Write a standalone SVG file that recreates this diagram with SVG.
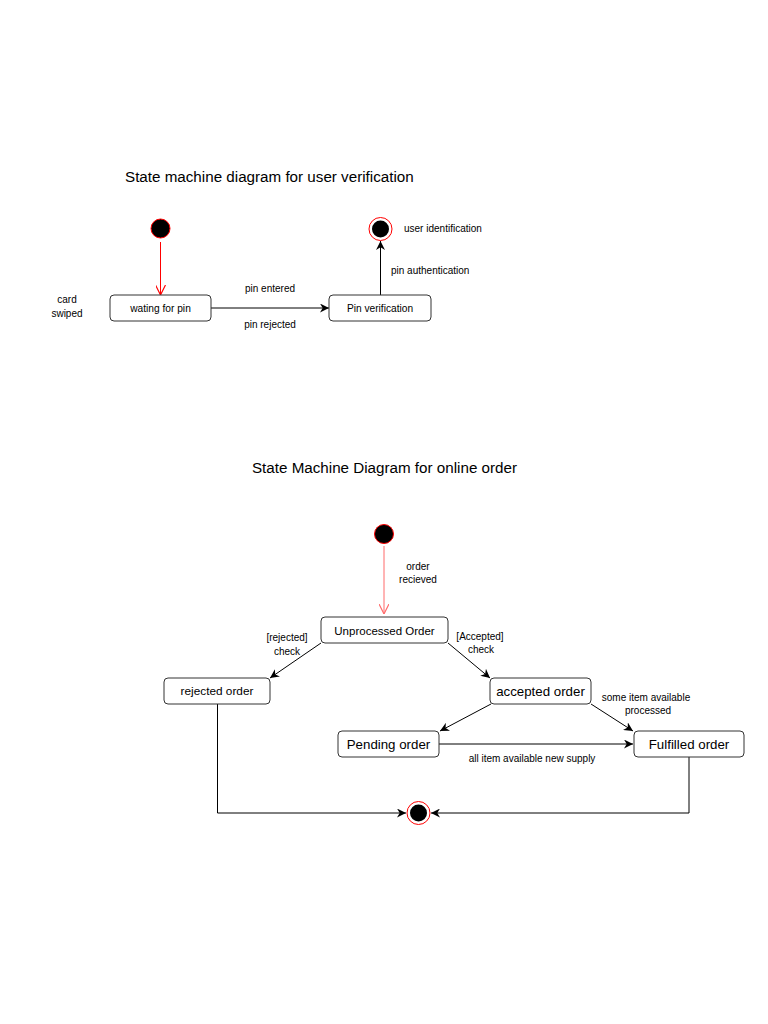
<svg xmlns="http://www.w3.org/2000/svg" width="768" height="1024" viewBox="0 0 768 1024">
<style>
text{font-family:"Liberation Sans",Arial,sans-serif;fill:#000}
.title{font-size:15.2px}
.lbl{font-size:10px}
.st{fill:#fff;stroke:#333;stroke-width:1}
.n1{font-size:10.2px}
.n2{font-size:13.3px}
.conn{fill:none;stroke:#000;stroke-width:1}
.red{fill:none;stroke:#f00;stroke-width:1}
.pink{fill:none;stroke:#ff6b6b;stroke-width:1}
.init{fill:#000;stroke:#f00;stroke-width:1}
.fin-o{fill:#fff;stroke:#f00;stroke-width:1}
.fin-i{fill:#000}
</style>
<defs>
<marker id="blk" viewBox="0 0 10 10" refX="10" refY="5" markerWidth="9" markerHeight="9" markerUnits="userSpaceOnUse" orient="auto">
<path d="M0,0 L10,5 L0,10 L3,5 Z" fill="#000"/>
</marker>
<marker id="openred" viewBox="0 0 10 10" refX="10" refY="5" markerWidth="10" markerHeight="10" markerUnits="userSpaceOnUse" orient="auto">
<path d="M0,0 L10,5 L0,10" fill="none" stroke="#f00" stroke-width="1.2"/>
</marker>
<marker id="openpink" viewBox="0 0 10 10" refX="10" refY="5" markerWidth="10" markerHeight="10" markerUnits="userSpaceOnUse" orient="auto">
<path d="M0,0 L10,5 L0,10" fill="none" stroke="#ff6b6b" stroke-width="1.2"/>
</marker>
</defs>
<rect width="768" height="1024" fill="#fff"/>

<text class="title" x="125" y="182">State machine diagram for user verification</text>
<text class="title" x="384.5" y="473" text-anchor="middle">State Machine Diagram for online order</text>

<g id="connectors">
<line class="red" x1="160.5" y1="242" x2="160.5" y2="295" marker-end="url(#openred)"/>
<line class="conn" x1="211" y1="308" x2="329" y2="308" marker-end="url(#blk)"/>
<line class="conn" x1="380.5" y1="295" x2="380.5" y2="241" marker-end="url(#blk)"/>

<line class="pink" x1="384" y1="546" x2="384" y2="614" marker-end="url(#openpink)"/>
<line class="conn" x1="321" y1="643" x2="270" y2="678" marker-end="url(#blk)"/>
<line class="conn" x1="448" y1="643" x2="490" y2="678" marker-end="url(#blk)"/>
<line class="conn" x1="491" y1="704" x2="440" y2="731" marker-end="url(#blk)"/>
<line class="conn" x1="591" y1="704" x2="633" y2="731" marker-end="url(#blk)"/>
<line class="conn" x1="439" y1="744" x2="633" y2="744" marker-end="url(#blk)"/>
<polyline class="conn" points="217.5,704 217.5,813 406,813" marker-end="url(#blk)"/>
<polyline class="conn" points="689,757 689,813 431,813" marker-end="url(#blk)"/>
</g>

<g id="labels">
<text class="lbl" x="67" y="303" text-anchor="middle">card</text>
<text class="lbl" x="67" y="317" text-anchor="middle">swiped</text>
<text class="lbl" x="270" y="292" text-anchor="middle">pin entered</text>
<text class="lbl" x="270" y="328" text-anchor="middle">pin rejected</text>
<text class="lbl" x="391" y="274">pin authentication</text>
<text class="lbl" x="404" y="232">user identification</text>

<text class="lbl" x="418" y="570" text-anchor="middle">order</text>
<text class="lbl" x="418" y="583" text-anchor="middle">recieved</text>
<text class="lbl" x="287" y="641" text-anchor="middle">[rejected]</text>
<text class="lbl" x="287" y="655" text-anchor="middle">check</text>
<text class="lbl" x="480" y="640" text-anchor="middle">[Accepted]</text>
<text class="lbl" x="481" y="653" text-anchor="middle">check</text>
<text class="lbl" x="646" y="701" text-anchor="middle">some item available</text>
<text class="lbl" x="648" y="714" text-anchor="middle">processed</text>
<text class="lbl" x="532" y="762" text-anchor="middle">all item available new supply</text>
</g>

<g id="init1"><circle class="init" cx="160.5" cy="228.5" r="9.5"/></g>
<g id="final1"><circle class="fin-o" cx="380.5" cy="229" r="11.5"/><circle class="fin-i" cx="380.5" cy="229" r="8.5"/></g>
<g id="waiting"><rect class="st" x="110" y="295" width="101" height="26" rx="4"/><text class="n1" x="160.5" y="311.5" text-anchor="middle">wating for pin</text></g>
<g id="pinver"><rect class="st" x="329" y="295" width="102" height="26" rx="4"/><text class="n1" x="380" y="311.5" text-anchor="middle">Pin verification</text></g>

<g id="init2"><circle class="init" cx="384" cy="534" r="9.5"/></g>
<g id="unprocessed"><rect class="st" x="321" y="617" width="127" height="26" rx="4"/><text x="384.5" y="634.5" text-anchor="middle" font-size="11.5">Unprocessed Order</text></g>
<g id="rejected"><rect class="st" x="164" y="678" width="106" height="26" rx="4"/><text x="217" y="695" text-anchor="middle" font-size="11.8">rejected order</text></g>
<g id="accepted"><rect class="st" x="490" y="678" width="101" height="26" rx="4"/><text class="n2" x="540.5" y="696" text-anchor="middle">accepted order</text></g>
<g id="pending"><rect class="st" x="338" y="731" width="101" height="26" rx="4"/><text class="n2" x="388.5" y="748.5" text-anchor="middle">Pending order</text></g>
<g id="fulfilled"><rect class="st" x="634" y="731" width="110" height="26" rx="4"/><text class="n2" x="689" y="748.5" text-anchor="middle">Fulfilled order</text></g>
<g id="final2"><circle class="fin-o" cx="418.5" cy="813" r="11.5"/><circle class="fin-i" cx="418.5" cy="813" r="8.5"/></g>
</svg>
